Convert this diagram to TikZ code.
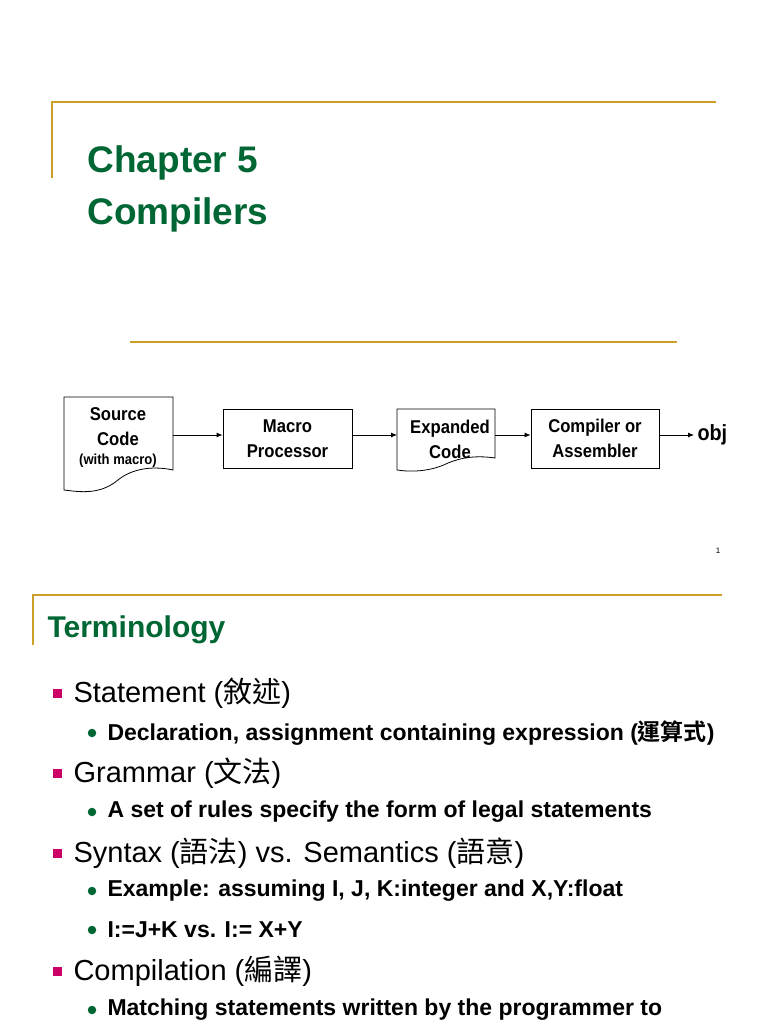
\documentclass[tikz,border=0pt]{standalone}
\usepackage{fontspec}
\setmainfont{Liberation Sans}
\newfontfamily\cjk{Noto Sans CJK TC}
\newfontfamily\cjkb{Noto Sans CJK TC Bold}
\newfontfamily\subf{Liberation Sans Bold}
\newfontfamily\narrowf{Liberation Sans}
\newfontfamily\titlef{Liberation Sans Bold}
\newfontfamily\diagf[FakeStretch=0.9]{Liberation Sans Bold}
\definecolor{gold}{RGB}{204,160,40}
\definecolor{dgreen}{RGB}{0,102,51}
\definecolor{mag}{RGB}{204,0,102}
\usetikzlibrary{arrows.meta}
\begin{document}
\begin{tikzpicture}[x=1pt,y=-1pt,
  goldline/.style={draw=gold,line width=1.5pt},
  title/.style={anchor=base west,text=dgreen,font=\fontsize{37}{40}\selectfont\titlef},
  box/.style={draw,line width=0.8pt},
  dtext/.style={align=center,font=\fontsize{18.5}{25}\selectfont\diagf},
  arr/.style={-{Latex[length=6pt,width=5pt]},line width=0.8pt},
  lvl1/.style={anchor=west,font=\fontsize{29}{32}\selectfont\narrowf},
  lvl2/.style={anchor=west,font=\fontsize{23}{26}\selectfont\subf},
  sq/.style={fill=mag,minimum size=9pt,inner sep=0pt},
  dot/.style={circle,fill=dgreen,minimum size=8.5pt,inner sep=0pt}]
\useasboundingbox (0,0) rectangle (768,1024);
% slide 1
\draw[goldline] (52,178) -- (52,102) -- (716,102);
\node[title] (c5) at (84,173) {Chapter 5};
\node[title] (cp) at (84,225) {Compilers};
\draw[goldline] (130,342) -- (677,342);
% diagram
\draw[box] (64,490) -- (64,397) -- (173,397) -- (173,470) .. controls (150,465) and (130,470) .. (118,480) .. controls (100,495) and (80,492) .. (64,490) -- cycle;
\node[dtext] (src) at (118,438) {Source\\Code\\[-6pt]{\fontsize{14.5}{18}\selectfont (with macro)}};
\coordinate (srcR) at (173,435);
\node[box,minimum width=129pt,minimum height=59pt] (mac) at (287.5,438.5) {};
\node[dtext] at (mac) {Macro\\Processor};
\draw[box] (397,470) -- (397,409) -- (495,409) -- (495,458) .. controls (475,455) and (460,458) .. (448,463) .. controls (430,472) and (410,472) .. (397,470) -- cycle;
\coordinate (expL) at (397,435);
\coordinate (expR) at (495,435);
\node[dtext] (exp) at (450,439) {Expanded\\Code};
\node[box,minimum width=128pt,minimum height=59pt] (comp) at (595,438.5) {};
\node[dtext] at (comp) {Compiler or\\Assembler};
\node[font=\fontsize{22}{24}\selectfont\diagf,anchor=west] (obj) at (694,435) {obj};
\draw[arr] (srcR) -- (mac.west|-srcR);
\draw[arr] (mac.east|-expL) -- (expL);
\draw[arr] (expR) -- (comp.west|-expR);
\draw[arr] (comp.east|-obj) -- (obj.west);
\node[font=\fontsize{8}{10}\selectfont\rmfamily] (pg) at (718,551) {1};
% slide 2
\draw[goldline] (33,645) -- (33,595) -- (722,595);
\node[anchor=base west,text=dgreen,font=\fontsize{30}{34}\selectfont\titlef] (term) at (44,637) {Terminology};
\node[sq] (s1) at (57.5,693) {}; \node[lvl1] (t1) at (70,693) {Statement ({\cjk 敘述})};
\node[dot] (d1) at (92,733) {}; \node[lvl2] (u1) at (104,733) {Declaration, assignment containing expression ({\cjkb 運算式})};
\node[sq] (s2) at (57.5,773) {}; \node[lvl1] (t2) at (70,773) {Grammar ({\cjk 文法})};
\node[dot] (d2) at (92,812) {}; \node[lvl2] (u2) at (104,812) {A set of rules specify the form of legal statements};
\node[sq] (s3) at (57.5,853) {}; \node[lvl1] (t3) at (70,853) {Syntax ({\cjk 語法}) vs. Semantics ({\cjk 語意})};
\node[dot] (d3) at (92,891) {}; \node[lvl2] (u3) at (104,891) {Example: assuming I, J, K:integer and X,Y:float};
\node[dot] (d4) at (92,930) {}; \node[lvl2] (u4) at (104,930) {I:=J+K vs. I:= X+Y};
\node[sq] (s4) at (57.5,971) {}; \node[lvl1] (t4) at (70,971) {Compilation ({\cjk 編譯})};
\node[dot] (d5) at (92,1010) {}; \node[lvl2] (u5) at (104,1010) {Matching statements written by the programmer to};
\end{tikzpicture}
\end{document}
